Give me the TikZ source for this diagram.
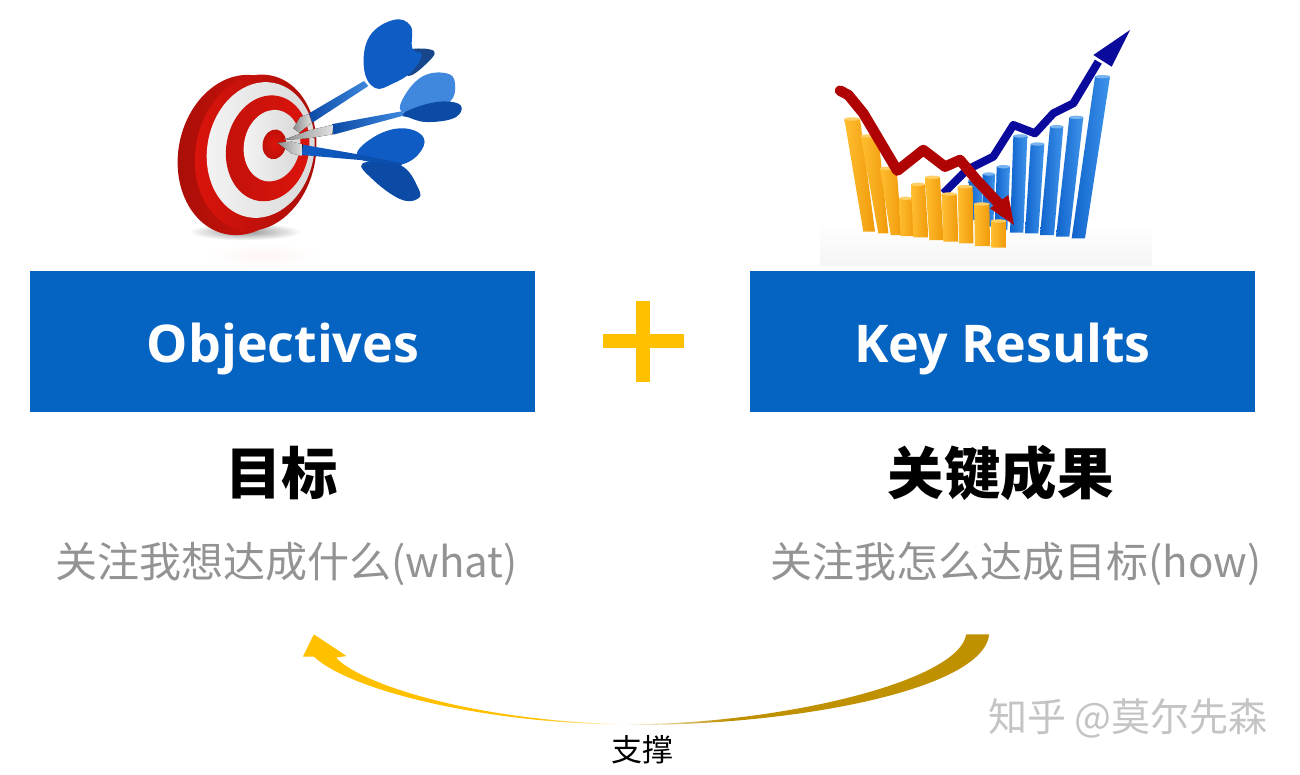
\documentclass[tikz,border=0pt]{standalone}
\usepackage{fontspec}
\setmainfont{Open Sans}
\newfontfamily\cjk{Noto Sans CJK SC}
\definecolor{boxblue}{HTML}{0563C1}
\definecolor{gold}{HTML}{FFC000}
\definecolor{golddark}{HTML}{BF9000}
\definecolor{greytext}{HTML}{939393}
\definecolor{wmark}{HTML}{C4C4C4}
\definecolor{tred}{HTML}{DC140C}
\definecolor{tdark}{HTML}{A80E08}
\definecolor{tlight}{HTML}{F4F4F4}
\definecolor{tgrey}{HTML}{D8D8D8}
\definecolor{dartA}{HTML}{0F5CC4}
\definecolor{dartB}{HTML}{3F88DE}
\definecolor{dartC}{HTML}{0B4BA6}
\definecolor{dartD}{HTML}{17478A}
\definecolor{navy}{HTML}{0A0A9C}
\definecolor{lred}{HTML}{B00404}
\definecolor{barbL}{HTML}{0F63CC}
\definecolor{barbR}{HTML}{3E94EA}
\definecolor{baroL}{HTML}{FFBE30}
\definecolor{baroR}{HTML}{F09A0A}
\pgfdeclarehorizontalshading{arrowgold}{100bp}{
  color(0bp)=(gold); color(42bp)=(gold); color(48.3bp)=(white); color(56bp)=(golddark); color(100bp)=(golddark)}
\tikzset{
  bigbox/.style={fill=boxblue,draw=none,minimum width=505pt,minimum height=141pt,inner sep=0pt},
  boxtext/.style={text=white,inner sep=0pt,anchor=base,font=\fontsize{52}{60}\selectfont\bfseries},
  headline/.style={text=black,inner sep=0pt,font=\fontsize{56.5}{64}\selectfont\cjk\bfseries},
  subline/.style={text=greytext,inner sep=0pt,font=\fontsize{42}{50}\selectfont\cjk},
  tipsilver/.style={left color=black!45,right color=black!12,draw=none}
}
\begin{document}
\begin{tikzpicture}[x=1pt,y=-1pt]
\useasboundingbox (0,0) rectangle (1300,774);
% ---------- target and darts (coordinates of the 3x crop)
\begin{scope}[shift={(160,0)},scale=1/3]
  \shade[inner color=black!42,outer color=white,draw=none] (255,695) ellipse (170 and 26);
  \shade[inner color=red!4,outer color=white,draw=none] (310,765) ellipse (180 and 38);
  \shade[left color=tdark,right color=tred,rotate around={-11:(245,465)}] (245,465) ellipse (190 and 242);
  \shade[left color=tred,right color=tdark,rotate around={-11:(287,458)}] (287,458) ellipse (180 and 236);
  \shade[left color=tlight,right color=tgrey,rotate around={-11:(302,450)}] (302,450) ellipse (160 and 205);
  \shade[left color=tdark!50!tred,right color=tred,rotate around={-11:(323,445)}] (323,445) ellipse (124 and 160);
  \shade[left color=tlight,right color=tgrey,rotate around={-11:(336,437)}] (336,437) ellipse (84 and 108);
  \shade[inner color=tred,outer color=tdark!60!tred,rotate around={-11:(343,433)}] (343,433) ellipse (35 and 45);
  % dart 1
  \fill[dartD] plot[smooth cycle,tension=.7] coordinates {(745,150)(822,153)(795,195)(745,228)(735,190)};
  \fill[dartA] plot[smooth cycle,tension=.7] coordinates {(645,264)(612,205)(628,110)(700,60)(752,78)(757,145)(785,165)(755,215)(700,250)};
  \shade[left color=dartC,right color=dartB,draw=none] (447,340) -- (612,243) -- (625,258) -- (457,368) -- cycle;
  \fill[tipsilver] (400,385) -- (420,352) -- (445,342) -- (455,368) -- (418,398) -- cycle;
  % dart 2
  \fill[dartB] plot[smooth cycle,tension=.7] coordinates {(725,335)(735,285)(790,228)(860,220)(885,250)(870,305)(800,325)};
  \fill[dartC] plot[smooth cycle,tension=.7] coordinates {(725,342)(800,312)(870,305)(905,322)(880,355)(800,366)(745,352)};
  \shade[left color=dartC,right color=dartB,draw=none] (518,372) -- (730,333) -- (730,347) -- (520,404) -- cycle;
  \fill[tipsilver] (370,420) -- (445,392) -- (515,375) -- (518,403) -- (445,415) -- cycle;
  % dart 3
  \fill[dartA] plot[smooth cycle,tension=.7] coordinates {(590,465)(640,412)(720,385)(785,405)(785,450)(730,492)(650,490)};
  \fill[dartC] plot[smooth cycle,tension=.7] coordinates {(608,490)(720,495)(775,565)(772,597)(720,597)(640,540)};
  \shade[left color=dartA,right color=dartC,draw=none] (428,434) -- (600,464) -- (725,490) -- (725,497) -- (600,480) -- (425,465) -- cycle;
  \fill[tipsilver] (352,428) -- (395,425) -- (428,433) -- (425,468) -- (395,460) -- cycle;
\end{scope}
% ---------- chart (coordinates of the 3x crop)
\begin{scope}[shift={(810,20)},scale=1/3]
  \shade[top color=white,bottom color=black!4,draw=none] (30,610) rectangle (1025,735);
  % blue bars
  \foreach \a/\b/\c/\d/\t/\u in {
     475/515/490/520/480/600, 518/555/520/550/462/620, 560/600/555/592/440/630,
     610/652/600/640/348/638, 662/703/645/685/372/640, 720/760/690/732/320/645,
     778/820/738/778/292/650, 855/900/785/825/170/655}{
    \shade[left color=barbL,right color=barbR,draw=none] (\a,\t) -- (\b,\t) -- (\d,\u) -- (\c,\u) -- cycle;
    \fill[barbR!70!white] ({(\a+\b)/2},\t) ellipse ({(\b-\a)/2} and 5);
  }
  % blue arrow
  \draw[navy,line width=8pt,line join=round] (400,520) -- (470,450) -- (550,410) -- (610,315) -- (675,340) -- (730,280) -- (790,250) -- (865,125);
  \fill[navy] (960,30) -- (850,105) -- (905,140) -- cycle;
  % orange bars
  \foreach \a/\b/\c/\d/\t/\u in {
     103/150/160/195/297/635, 152/205/205/235/348/640, 210/260/242/275/445/645,
     267/305/272/315/535/648, 303/345/310/355/493/652, 345/390/358/400/472/660,
     395/440/400/445/522/665, 443/488/447/490/500/670, 492/538/495/540/552/678,
     543/588/545/590/603/683}{
    \shade[left color=baroL,right color=baroR,draw=none]
       (\a,\t) -- (\b,\t) -- (\d,\u) -- (\c,\u) -- cycle;
    \fill[baroL!75!white] ({(\a+\b)/2},\t) ellipse ({(\b-\a)/2} and 5);
  }
  % red arrow
  \draw[lred,line width=10.5pt,line join=round,line cap=round] (90,212) -- (115,225) -- (160,280) -- (262,452) -- (340,390) -- (405,440) -- (450,420) -- (500,480) -- (575,560);
  \fill[lred] (612,615) -- (540,565) -- (595,525) -- cycle;
\end{scope}
% ---------- boxes and plus
\node[bigbox] (obj) at (282.5,341.5) {};
\node[bigbox] (kr) at (1002.5,341.5) {};
\node[boxtext] (objt) at (283,362) {Objectives};
\node[boxtext] (krt) at (1002.5,362) {Key Results};
\fill[gold] (602.5,334) rectangle (683.5,347.5);
\fill[gold] (636,300.5) rectangle (649.5,381.5);
% ---------- texts
\node[headline] (objzh) at (281.5,473) {目标};
\node[headline] (krzh) at (1000.5,473) {关键成果};
\node[subline] (objsub) at (286.5,564) {关注我想达成什么(what)};
\node[subline] (krsub) at (1016,564) {关注我怎么达成目标(how)};
\node[inner sep=0pt,font=\fontsize{31}{36}\selectfont\cjk] (support) at (642.5,750) {支撑};
\node[inner sep=0pt,text=wmark,font=\fontsize{39}{44}\selectfont\cjk] (mark) at (1128,718) {知乎 @莫尔先森};
% ---------- curved arrow
\begin{scope}[shift={(290,620)},xscale=1/2.178,yscale=1/3]
  \shade[shading=arrowgold,draw=none]
    (1473,43) .. controls (1455,190) and (1050,312) .. (750,312)
    .. controls (430,310) and (160,200) .. (100,113)
    -- (123,108) -- (52,43) -- (28,110) -- (52,110)
    .. controls (130,210) and (420,312) .. (750,315)
    .. controls (1100,315) and (1510,210) .. (1523,43) -- cycle;
\end{scope}
\end{tikzpicture}
\end{document}
